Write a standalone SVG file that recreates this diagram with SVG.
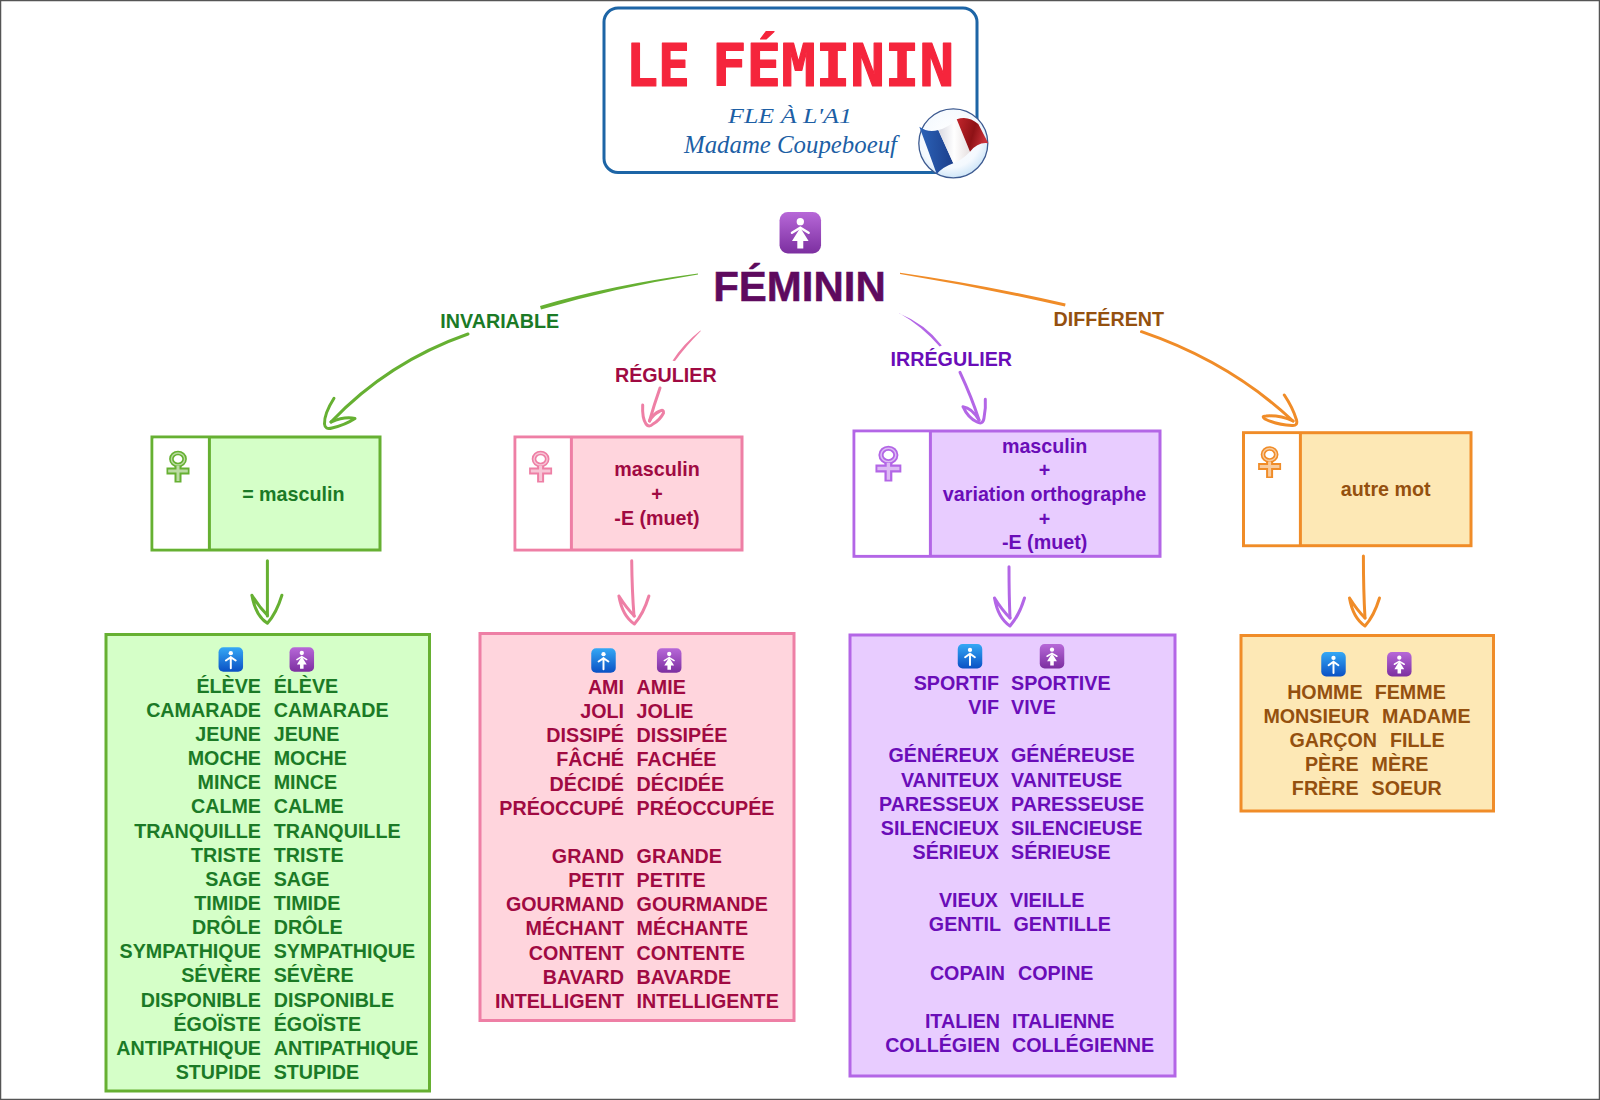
<svg xmlns="http://www.w3.org/2000/svg" width="1600" height="1100" viewBox="0 0 1600 1100">
<style>
text{font-family:"Liberation Sans",Arial,sans-serif;font-weight:700;font-size:19.7px}
.e{text-anchor:end}.m{text-anchor:middle}
.g{fill:#1b7a26;color:#66b032}.p{fill:#a00a42;color:#ee7fa5}.v{fill:#6a0db8;color:#b366e6}.o{fill:#94500f;color:#f08c28}
.gb{fill:#d5ffc8;stroke:#66b032}.pb{fill:#ffd5dd;stroke:#ee7fa5}.vb{fill:#e8ccff;stroke:#b366e6}.ob{fill:#fde8b5;stroke:#f08c28}
.b{stroke-width:3}.w{fill:#fff}
.gs{stroke:#66b032;fill:none}.ps{stroke:#ee7fa5;fill:none}.vs{stroke:#b366e6;fill:none}.os{stroke:#f08c28;fill:none}
.l{stroke-width:3;stroke-linecap:round;stroke-linejoin:round}
.ttl{font-family:"DejaVu Sans Mono","Liberation Mono",monospace;font-size:58px;fill:#f5253c;stroke:#f5253c;stroke-width:1.2;stroke-linejoin:round}
.hand{font-family:"Liberation Serif",serif;font-style:italic;font-weight:400;fill:#1d5fa5}
</style>
<defs>
<linearGradient id="gb" x1="0" y1="0" x2="0" y2="1"><stop offset="0" stop-color="#35a8f5"/><stop offset="1" stop-color="#0a50c4"/></linearGradient>
<linearGradient id="gv" x1="0" y1="0" x2="0" y2="1"><stop offset="0" stop-color="#b768d8"/><stop offset="1" stop-color="#7c2fa0"/></linearGradient>
<radialGradient id="gf" cx="0.45" cy="0.4" r="0.65"><stop offset="0" stop-color="#fff"/><stop offset="0.7" stop-color="#f4f9fe"/><stop offset="1" stop-color="#c4e0f6"/></radialGradient>
<linearGradient id="fb" x1="0" y1="0" x2="1" y2="0"><stop offset="0" stop-color="#2c63b8"/><stop offset="1" stop-color="#1c3f8c"/></linearGradient>
<linearGradient id="fr" x1="0" y1="0" x2="1" y2="0.3"><stop offset="0" stop-color="#c4262c"/><stop offset="0.6" stop-color="#8e1216"/><stop offset="1" stop-color="#c93038"/></linearGradient>
<linearGradient id="fw" x1="0" y1="0" x2="1" y2="0"><stop offset="0" stop-color="#d8d8e0"/><stop offset="0.5" stop-color="#fff"/><stop offset="1" stop-color="#e6e0e0"/></linearGradient>
<symbol id="man" viewBox="0 0 25 25" overflow="visible">
<rect x="0" y="0" width="25" height="25" rx="5" fill="url(#gb)"/>
<circle cx="12.5" cy="6" r="2.2" fill="#fff"/>
<path d="M12.5 10V21.5M7.5 13.5L12.5 10L17.5 13.5" fill="none" stroke="#fff" stroke-width="2" stroke-linecap="round"/>
</symbol>
<symbol id="woman" viewBox="0 0 25 25" overflow="visible">
<rect x="0" y="0" width="25" height="25" rx="5" fill="url(#gv)"/>
<circle cx="12.5" cy="5.8" r="2.2" fill="#fff"/>
<path d="M7.5 12.5L12.5 9.5L17.5 12.5" fill="none" stroke="#fff" stroke-width="1.5" stroke-linecap="round"/>
<path d="M12.5 9.5L17.5 17.5H14.3V22H10.7V17.5H7.5Z" fill="#fff"/>
</symbol>
<symbol id="venus" viewBox="0 0 26 32" overflow="visible">
<path d="M13 14V31.5M1.5 20H24.5" fill="none" stroke="currentColor" stroke-width="7"/>
<ellipse cx="13" cy="8" rx="6.6" ry="6" fill="#fff" stroke="currentColor" stroke-width="4.6"/>
<path d="M13 15V30M3.2 20H22.8" fill="none" stroke="#fff" stroke-opacity="0.55" stroke-width="3"/>
<ellipse cx="13" cy="8" rx="6.6" ry="6" fill="none" stroke="#fff" stroke-opacity="0.55" stroke-width="1.4"/>
</symbol>
<symbol id="down" viewBox="-16 -30 32 32" overflow="visible">
<path d="M-15.5 -28Q-8 -16 0 -8M-15.5 -28Q-12 -8 0 0Q9 -10 14.5 -28" fill="none" stroke="currentColor" stroke-width="3" stroke-linecap="round" stroke-linejoin="round"/>
</symbol>
</defs>
<rect id="background" x="0.5" y="0.5" width="1599" height="1099" fill="#fff" stroke="#555" stroke-width="1.5"/>

<g id="title">
<rect x="604" y="8" width="373" height="164.5" rx="14" fill="#fff" stroke="#1d65a6" stroke-width="3"/>
<text class="ttl" x="626" y="86" textLength="64" lengthAdjust="spacingAndGlyphs">LE</text>
<text class="ttl" x="712" y="86" textLength="242" lengthAdjust="spacingAndGlyphs">FÉMININ</text>
<text class="hand" x="728" y="122.7" textLength="124" lengthAdjust="spacingAndGlyphs" style="font-size:21px">FLE À L'A1</text>
<text class="hand" x="684" y="152.7" textLength="213" lengthAdjust="spacingAndGlyphs" style="font-size:25px">Madame Coupeboeuf</text>
<g id="flag">
<circle cx="953.3" cy="143.3" r="34.5" fill="url(#gf)" stroke="#3d5a90" stroke-width="1.3"/>
<path d="M919.3 126.7Q928 133 938.3 130L953.3 163.3Q943.3 166.7 936.7 174Q927 147 919.3 126.7Z" fill="url(#fb)"/>
<path d="M938.3 130Q948 128 956.7 119.3L970 151.7Q962 160 953.3 163.3Z" fill="url(#fw)"/>
<path d="M956.7 119.3Q968 115 978.3 124L988.3 143.3Q978 141.7 970 151.7Z" fill="url(#fr)"/>
</g>
</g>

<g id="root">
<use href="#woman" x="779.3" y="212" width="42" height="41.5"/>
<text x="799.5" y="301" class="m" style="font-size:42px;fill:#5e0a5e;stroke:#5e0a5e;stroke-width:0.5">FÉMININ</text>
</g>

<g id="connectors">
<g class="g">
<path d="M698 273.6Q612 285 540 306L541 309.6Q614 288 698 274.6Z" fill="#66b032" stroke="none"/>
<path class="gs l" d="M468 334Q388 362 331 422"/>
<path class="gs l" d="M334 398.3Q324 414 324.5 424Q325 430 332 428Q345 425 355 418.5Q345 416 331 422"/>
<text x="499.8" y="328.3" class="m">INVARIABLE</text>
</g>
<g class="p">
<path d="M700.4 330.4Q683 344 672.5 360.7L675 361Q686 346 700.8 331Z" fill="#ee7fa5" stroke="none"/>
<path class="ps l" d="M660 388Q654 405 649.5 421"/>
<path class="ps l" d="M642.7 405Q642 418 646 424Q649 428 653 424Q660 420 663.5 413Q664 409 660 411Q653 414 649.5 421"/>
<text x="665.8" y="382" class="m">RÉGULIER</text>
</g>
<g class="v">
<path d="M899 313Q922 326 939.6 346.6L941.8 345.4Q925 324 899.4 313.6Z" fill="#b366e6" stroke="none"/>
<path class="vs l" d="M960 372.3Q972 398 979 420"/>
<path class="vs l" d="M963 406.7Q968 418 977 422Q983 425 984 418Q986 408 985.3 399.3M963 406.7Q972 408 979 420"/>
<text x="951.3" y="366" class="m">IRRÉGULIER</text>
</g>
<g class="o">
<path d="M900 272.8Q985 285 1065.6 303.6L1065 306.6Q985 288 900 273.9Z" fill="#f08c28" stroke="none"/>
<path class="os l" d="M1141.5 331.7Q1230 362 1293 421"/>
<path class="os l" d="M1284.3 395Q1293 408 1296.5 420Q1298 426 1292 425.5Q1277 425 1265 419Q1261 416 1266 416Q1280 415 1293 421"/>
<text x="1108.8" y="325.7" class="m">DIFFÉRENT</text>
</g>
<g class="g"><path class="gs l" d="M267.4 560.7V616"/><use href="#down" x="251.4" y="593.3" width="32" height="32"/></g>
<g class="p"><path class="ps l" d="M631.7 560.7Q632 590 634 616"/><use href="#down" x="618.4" y="594" width="32" height="32"/></g>
<g class="v"><path class="vs l" d="M1009 566.7Q1009 595 1010 618"/><use href="#down" x="994" y="596" width="32" height="32"/></g>
<g class="o"><path class="os l" d="M1363.4 556Q1363.4 590 1365 618"/><use href="#down" x="1349" y="596" width="32" height="32"/></g>
</g>

<g id="node-invariable" class="g">
<rect class="gb b" x="152" y="437" width="228" height="113"/>
<rect class="w" x="153.5" y="438.5" width="55.5" height="110"/><path class="gs b" d="M209.4 437V550"/>
<use href="#venus" x="165" y="451" width="26" height="32"/>
<text x="293.3" y="500.7" class="m">= masculin</text>
</g>
<g id="node-regulier" class="p">
<rect class="pb b" x="515" y="437" width="227" height="113"/>
<rect class="w" x="516.5" y="438.5" width="55" height="110"/><path class="ps b" d="M571.4 437V550"/>
<use href="#venus" x="527.6" y="451" width="26" height="32"/>
<text x="657" y="476" class="m">masculin</text><text x="657" y="500.7" class="m">+</text><text x="657" y="525" class="m">-E (muet)</text>
</g>
<g id="node-irregulier" class="v">
<rect class="vb b" x="854" y="431" width="306" height="125.3"/>
<rect class="w" x="855.5" y="432.5" width="75" height="122.3"/><path class="vs b" d="M930.4 431V556.3"/>
<use href="#venus" x="872.4" y="446" width="32" height="36"/>
<text x="1044.6" y="452.7" class="m">masculin</text><text x="1044.6" y="477" class="m">+</text><text x="1044.6" y="500.7" class="m">variation orthographe</text><text x="1044.6" y="525.7" class="m">+</text><text x="1044.6" y="549" class="m">-E (muet)</text>
</g>
<g id="node-different" class="o">
<rect class="ob b" x="1243.5" y="432.7" width="227.5" height="113"/>
<rect class="w" x="1245" y="434.2" width="55.4" height="110"/><path class="os b" d="M1300.4 432.7V545.7"/>
<use href="#venus" x="1256.6" y="446.5" width="26" height="32"/>
<text x="1385.7" y="496" class="m">autre mot</text>
</g>

<g id="list-invariable" class="g">
<rect class="gb b" x="106" y="634.5" width="323.5" height="456.5"/>
<use href="#man" x="218.3" y="647.3" width="25" height="24.5"/><use href="#woman" x="289.3" y="647.3" width="25" height="24.5"/>
<text class="e" x="261" y="692.7">ÉLÈVE</text><text x="273.7" y="692.7">ÉLÈVE</text>
<text class="e" x="261" y="716.8">CAMARADE</text><text x="273.7" y="716.8">CAMARADE</text>
<text class="e" x="261" y="741">JEUNE</text><text x="273.7" y="741">JEUNE</text>
<text class="e" x="261" y="765.1">MOCHE</text><text x="273.7" y="765.1">MOCHE</text>
<text class="e" x="261" y="789.3">MINCE</text><text x="273.7" y="789.3">MINCE</text>
<text class="e" x="261" y="813.4">CALME</text><text x="273.7" y="813.4">CALME</text>
<text class="e" x="261" y="837.5">TRANQUILLE</text><text x="273.7" y="837.5">TRANQUILLE</text>
<text class="e" x="261" y="861.7">TRISTE</text><text x="273.7" y="861.7">TRISTE</text>
<text class="e" x="261" y="885.8">SAGE</text><text x="273.7" y="885.8">SAGE</text>
<text class="e" x="261" y="910">TIMIDE</text><text x="273.7" y="910">TIMIDE</text>
<text class="e" x="261" y="934.1">DRÔLE</text><text x="273.7" y="934.1">DRÔLE</text>
<text class="e" x="261" y="958.2">SYMPATHIQUE</text><text x="273.7" y="958.2">SYMPATHIQUE</text>
<text class="e" x="261" y="982.4">SÉVÈRE</text><text x="273.7" y="982.4">SÉVÈRE</text>
<text class="e" x="261" y="1006.5">DISPONIBLE</text><text x="273.7" y="1006.5">DISPONIBLE</text>
<text class="e" x="261" y="1030.7">ÉGOÏSTE</text><text x="273.7" y="1030.7">ÉGOÏSTE</text>
<text class="e" x="261" y="1054.8">ANTIPATHIQUE</text><text x="273.7" y="1054.8">ANTIPATHIQUE</text>
<text class="e" x="261" y="1079">STUPIDE</text><text x="273.7" y="1079">STUPIDE</text>
</g>
<g id="list-regulier" class="p">
<rect class="pb b" x="480" y="633.5" width="314" height="387"/>
<use href="#man" x="591" y="648.3" width="25" height="24.5"/><use href="#woman" x="656.7" y="648.3" width="25" height="24.5"/>
<text class="e" x="624" y="694">AMI</text><text x="636.6" y="694">AMIE</text>
<text class="e" x="624" y="718.1">JOLI</text><text x="636.6" y="718.1">JOLIE</text>
<text class="e" x="624" y="742.3">DISSIPÉ</text><text x="636.6" y="742.3">DISSIPÉE</text>
<text class="e" x="624" y="766.4">FÂCHÉ</text><text x="636.6" y="766.4">FACHÉE</text>
<text class="e" x="624" y="790.5">DÉCIDÉ</text><text x="636.6" y="790.5">DÉCIDÉE</text>
<text class="e" x="624" y="814.7">PRÉOCCUPÉ</text><text x="636.6" y="814.7">PRÉOCCUPÉE</text>
<text class="e" x="624" y="863">GRAND</text><text x="636.6" y="863">GRANDE</text>
<text class="e" x="624" y="887.1">PETIT</text><text x="636.6" y="887.1">PETITE</text>
<text class="e" x="624" y="911.2">GOURMAND</text><text x="636.6" y="911.2">GOURMANDE</text>
<text class="e" x="624" y="935.4">MÉCHANT</text><text x="636.6" y="935.4">MÉCHANTE</text>
<text class="e" x="624" y="959.5">CONTENT</text><text x="636.6" y="959.5">CONTENTE</text>
<text class="e" x="624" y="983.6">BAVARD</text><text x="636.6" y="983.6">BAVARDE</text>
<text class="e" x="624" y="1007.8">INTELLIGENT</text><text x="636.6" y="1007.8">INTELLIGENTE</text>
</g>
<g id="list-irregulier" class="v">
<rect class="vb b" x="850" y="635" width="325" height="441"/>
<use href="#man" x="957.5" y="644" width="25" height="24.5"/><use href="#woman" x="1039.5" y="644" width="25" height="24.5"/>
<text class="e" x="999" y="690">SPORTIF</text><text x="1011" y="690">SPORTIVE</text>
<text class="e" x="999" y="714.1">VIF</text><text x="1011" y="714.1">VIVE</text>
<text class="e" x="999" y="762.4">GÉNÉREUX</text><text x="1011" y="762.4">GÉNÉREUSE</text>
<text class="e" x="999" y="786.5">VANITEUX</text><text x="1011" y="786.5">VANITEUSE</text>
<text class="e" x="999" y="810.7">PARESSEUX</text><text x="1011" y="810.7">PARESSEUSE</text>
<text class="e" x="999" y="834.8">SILENCIEUX</text><text x="1011" y="834.8">SILENCIEUSE</text>
<text class="e" x="999" y="859">SÉRIEUX</text><text x="1011" y="859">SÉRIEUSE</text>
<text class="e" x="998" y="907.2">VIEUX</text><text x="1010" y="907.2">VIEILLE</text>
<text class="e" x="1001" y="931.4">GENTIL</text><text x="1013.5" y="931.4">GENTILLE</text>
<text class="e" x="1005" y="979.6">COPAIN</text><text x="1018" y="979.6">COPINE</text>
<text class="e" x="1000" y="1027.9">ITALIEN</text><text x="1012" y="1027.9">ITALIENNE</text>
<text class="e" x="1000" y="1052">COLLÉGIEN</text><text x="1012" y="1052">COLLÉGIENNE</text>
</g>
<g id="list-different" class="o">
<rect class="ob b" x="1241" y="635.5" width="252.5" height="175.5"/>
<use href="#man" x="1321" y="652" width="25" height="24.5"/><use href="#woman" x="1386.8" y="652" width="25" height="24.5"/>
<text class="e" x="1362.6" y="699">HOMME</text><text x="1374.7" y="699">FEMME</text>
<text class="e" x="1369.5" y="723">MONSIEUR</text><text x="1382" y="723">MADAME</text>
<text class="e" x="1377" y="747">GARÇON</text><text x="1390" y="747">FILLE</text>
<text class="e" x="1358.6" y="771">PÈRE</text><text x="1371.6" y="771">MÈRE</text>
<text class="e" x="1358.6" y="795">FRÈRE</text><text x="1371.6" y="795">SOEUR</text>
</g>
</svg>
